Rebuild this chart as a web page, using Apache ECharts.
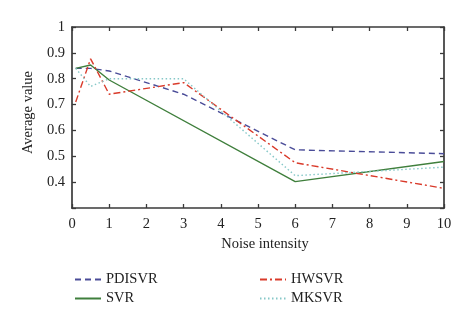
<!DOCTYPE html>
<html>
<head>
<meta charset="utf-8">
<script src="https://cdn.jsdelivr.net/npm/echarts@6/dist/echarts.min.js"></script>
<style>
  html, body { margin: 0; padding: 0; background: #fff; }
  #chart { width: 474px; height: 323px; }
</style>
</head>
<body>
<div id="chart"></div>
<script>
// Average value against noise intensity for four SVR variants
const noise = [0.1, 0.5, 1, 3, 6, 10];
const pdisvr = [0.84, 0.84, 0.83, 0.74, 0.525, 0.51];
const hwsvr = [0.71, 0.877, 0.74, 0.785, 0.475, 0.376];
const mksvr = [0.84, 0.77, 0.80, 0.80, 0.425, 0.458];
const svrNoise = [0.1, 0.5, 1, 6, 10];
const svr = [0.84, 0.853, 0.795, 0.402, 0.48];
const xTicks = [0, 1, 2, 3, 4, 5, 6, 7, 8, 9, 10];
const yTicks = [0.4, 0.5, 0.6, 0.7, 0.8, 0.9, 1];

const pair = (xs, ys) => xs.map((x, i) => [x, ys[i]]);
const FONT = 'Liberation Serif';
const AXIS = '#3a3a3a';
const SIZE = 14.5;

const chart = echarts.init(document.getElementById('chart'));

function xAxisDef(pos, show) {
  return {
    type: 'value', position: pos, min: 0, max: 10, interval: 1,
    name: show ? 'Noise intensity' : '', nameLocation: 'middle', nameGap: 29,
    nameTextStyle: { fontFamily: FONT, fontSize: SIZE, color: '#222', padding: [0, 0, 0, 14] },
    axisLine: { show: true, onZero: false, lineStyle: { color: AXIS, width: 1.7 } },
    axisTick: { show: true, inside: true, length: 4, lineStyle: { color: AXIS, width: 1.3 } },
    axisLabel: {
      show: show, margin: 9, fontFamily: FONT, fontSize: SIZE, color: '#222',
      formatter: v => xTicks.includes(v) ? String(v) : ''
    },
    splitLine: { show: false }
  };
}

function yAxisDef(pos, show) {
  return {
    type: 'value', position: pos, min: 0.3, max: 1, interval: 0.1,
    name: show ? 'Average value' : '', nameLocation: 'middle', nameGap: 36,
    nameTextStyle: { fontFamily: FONT, fontSize: SIZE, color: '#222', padding: [0, 0, 0, 10] },
    axisLine: { show: true, onZero: false, lineStyle: { color: AXIS, width: 1.7 } },
    axisTick: { show: true, inside: true, length: 4, lineStyle: { color: AXIS, width: 1.3 } },
    axisLabel: {
      show: show, margin: 7, fontFamily: FONT, fontSize: SIZE, color: '#222',
      formatter: v => {
        const r = Math.round(v * 10) / 10;
        return yTicks.includes(r) ? String(r) : '';
      }
    },
    splitLine: { show: false }
  };
}

function line(name, data, color, type, width) {
  return {
    name, type: 'line', data, symbol: 'none', xAxisIndex: 0, yAxisIndex: 0,
    lineStyle: { color, type, width },
    itemStyle: { color },
    z: 3
  };
}

const legendText = { fontFamily: FONT, fontSize: SIZE, color: '#222' };
const legendBase = {
  orient: 'vertical', top: 267, itemWidth: 26, itemHeight: 10, itemGap: 4,
  textStyle: legendText, itemStyle: { opacity: 0 }
};

chart.setOption({
  animation: false,
  backgroundColor: '#fff',
  grid: { left: 72, right: 30, top: 27, bottom: 115, containLabel: false },
  xAxis: [xAxisDef('bottom', true), xAxisDef('top', false)],
  yAxis: [yAxisDef('left', true), yAxisDef('right', false)],
  legend: [
    Object.assign({ data: ['PDISVR', 'SVR'], left: 69 }, legendBase),
    Object.assign({ data: ['HWSVR', 'MKSVR'], left: 254 }, legendBase)
  ],
  series: [
    line('PDISVR', pair(noise, pdisvr), '#4a4c98', [6, 4], 1.4),
    line('SVR', pair(svrNoise, svr), '#3f7f3c', 'solid', 1.4),
    line('HWSVR', pair(noise, hwsvr), '#d93a2a', [7, 3, 2, 3], 1.4),
    line('MKSVR', pair(noise, mksvr), '#86c8c8', [1.5, 2.5], 1.4)
  ]
});
</script>
</body>
</html>
